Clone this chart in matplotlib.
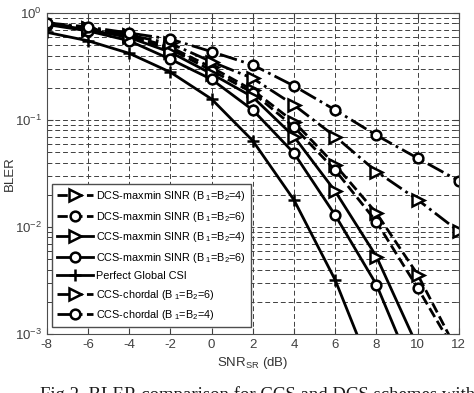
import numpy as np
import matplotlib
matplotlib.use('Agg')
import matplotlib.pyplot as plt
from matplotlib.ticker import LogLocator, NullFormatter

plt.rcParams['font.family'] = ['Liberation Sans', 'DejaVu Sans']
plt.rcParams['mathtext.fontset'] = 'custom'
plt.rcParams['mathtext.rm'] = 'Liberation Sans'
plt.rcParams['mathtext.it'] = 'Liberation Sans'
plt.rcParams['axes.unicode_minus'] = False

# SNR_SR (dB)
snr = [-8, -6, -4, -2, 0, 2, 4, 6, 8, 10, 12]

# BLER values
dcs_b4 = [0.80, 0.72, 0.62, 0.48, 0.31, 0.19, 0.096, 0.038, 0.0135, 0.0036, 0.00065]
dcs_b6 = [0.79, 0.71, 0.60, 0.46, 0.29, 0.18, 0.086, 0.034, 0.0112, 0.0027, 0.0006]
ccs_b4 = [0.79, 0.70, 0.59, 0.43, 0.27, 0.164, 0.070, 0.0216, 0.0053, 0.00076]
ccs_b6 = [0.78, 0.68, 0.55, 0.37, 0.24, 0.124, 0.049, 0.0129, 0.0029, 0.00035]
perfect = [0.66, 0.55, 0.42, 0.28, 0.157, 0.064, 0.0179, 0.0032, 0.00035]
chordal_b6 = [0.80, 0.72, 0.62, 0.52, 0.35, 0.245, 0.138, 0.070, 0.033, 0.018, 0.0091]
chordal_b4 = [0.81, 0.74, 0.65, 0.57, 0.435, 0.327, 0.208, 0.124, 0.072, 0.044, 0.027]

fig = plt.figure(figsize=(4.74, 3.93), dpi=100)
ax = fig.add_axes([0.0985, 0.150, 0.8695, 0.817])

kw = dict(color='black', lw=2, mfc='white', mec='black', mew=1.8)
ax.plot(snr[:len(dcs_b4)], dcs_b4, '--', marker='>', ms=8, label=r'DCS-maxmin SINR (B$_{\ 1}$=B$_2$=4)', **kw)
ax.plot(snr[:len(dcs_b6)], dcs_b6, '--', marker='o', ms=7, label=r'DCS-maxmin SINR (B$_{\ 1}$=B$_2$=6)', **kw)
ax.plot(snr[:len(ccs_b4)], ccs_b4, '-', marker='>', ms=8, label=r'CCS-maxmin SINR (B$_{\ 1}$=B$_2$=4)', **kw)
ax.plot(snr[:len(ccs_b6)], ccs_b6, '-', marker='o', ms=7, label=r'CCS-maxmin SINR (B$_{\ 1}$=B$_2$=6)', **kw)
ax.plot(snr[:len(perfect)], perfect, '-', marker='+', ms=8, label='Perfect Global CSI', **kw)
ax.plot(snr[:len(chordal_b6)], chordal_b6, '-.', marker='>', ms=8, label=r'CCS-chordal (B$_{\ 1}$=B$_2$=6)', **kw)
ax.plot(snr[:len(chordal_b4)], chordal_b4, '-.', marker='o', ms=7, label=r'CCS-chordal (B$_{\ 1}$=B$_2$=4)', **kw)

ax.set_yscale('log')
ax.set_xlim(-8, 12)
ax.set_ylim(1e-3, 1)
ax.set_xticks(range(-8, 13, 2))
ax.yaxis.set_major_locator(LogLocator(base=10))
ax.yaxis.set_minor_locator(LogLocator(base=10, subs=np.arange(2, 10)))
ax.yaxis.set_minor_formatter(NullFormatter())

ax.grid(True, which='major', color='0.25', ls=(0, (5, 3)), lw=0.7)
ax.grid(True, which='minor', axis='y', color='0.25', ls=(0, (5, 3)), lw=0.7)
ax.tick_params(which='both', direction='in', top=True, right=True, labelsize=9.5, colors='0.25')
ax.tick_params(which='major', length=4)
ax.tick_params(which='minor', length=2)
for s in ax.spines.values():
    s.set_color('0.3')

ax.set_xlabel(r'SNR$_{\mathrm{SR}}$ (dB)', fontsize=9.5, color='0.2', labelpad=3)
ax.set_ylabel('BLER', fontsize=9.5, color='0.2')
ax.yaxis.set_label_coords(-0.075, 0.5)

leg = ax.legend(loc='lower left', bbox_to_anchor=(0.013, 0.022), borderaxespad=0,
                fontsize=7.8, handlelength=3.3, labelspacing=0.6, handletextpad=0.3,
                fancybox=False, framealpha=1, edgecolor='0.3', borderpad=0.45)
leg.get_frame().set_linewidth(1)

fig.text(0.085, 0.018, 'Fig.2. BLER comparison for CCS and DCS schemes with',
         family=['Liberation Serif', 'DejaVu Serif'], fontsize=13.5, va='top', color='0.1')

fig.savefig('out.png', dpi=100)
